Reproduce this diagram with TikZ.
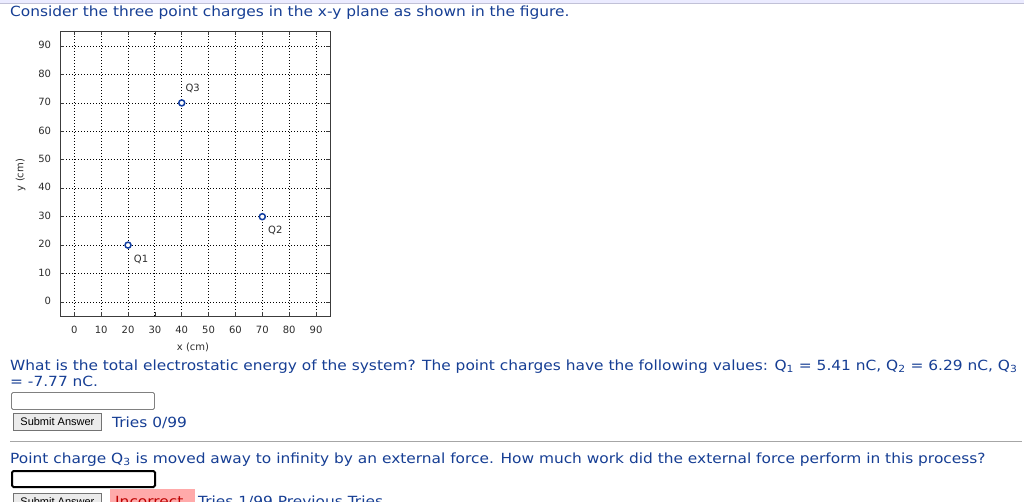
\documentclass[tikz,border=0pt]{standalone}
\usepackage{fontspec}
\setmainfont{DejaVu Sans}
\newfontfamily\webfont{DejaVu Sans}[FakeStretch=1.1]
\newfontfamily\btnfont{Liberation Sans}
\definecolor{qblue}{RGB}{22,62,148}
\definecolor{mblue}{RGB}{16,60,160}
\definecolor{axgrey}{RGB}{45,45,45}
\definecolor{boxc}{RGB}{60,60,60}
\definecolor{pinkbg}{RGB}{255,170,170}
\definecolor{redtxt}{RGB}{190,0,0}
\begin{document}
\begin{tikzpicture}[x=1pt,y=-1pt,
  txt/.style={anchor=base west, inner sep=0pt, font=\webfont\fontsize{14}{16}\selectfont, text=qblue},
  ax/.style={font=\fontsize{10}{11}\selectfont, text=axgrey, inner sep=0pt},
  axt/.style={font=\fontsize{10}{11}\selectfont, text=axgrey, inner sep=0pt},
  qlab/.style={font=\fontsize{10}{11}\selectfont, text=axgrey, inner sep=0pt},
  gridline/.style={black, line width=0.8pt, dash pattern=on 1pt off 2pt},
  tickline/.style={boxc, line width=0.7pt},
  charge/.style={circle, draw=mblue, fill=white, line width=1.5pt, minimum size=6pt, inner sep=0pt},
  inbox/.style={draw=gray, line width=0.9pt, rounded corners=1.5pt, anchor=north west, inner sep=0pt, minimum width=143pt, minimum height=17pt},
  btn/.style={draw=gray!90!black, fill=black!8, line width=0.8pt, anchor=north west, inner sep=0pt, minimum width=88pt, minimum height=17pt, font=\btnfont\fontsize{11}{12}\selectfont, text=black}]
\useasboundingbox (0,0) rectangle (1024,502);
\clip (0,0) rectangle (1024,502);
\fill[white] (0,0) rectangle (1024,502);
% top band
\fill[blue!8] (0,0) rectangle (1024,3);
\draw[blue!22!gray!40, line width=0.8pt] (0,3.2) -- (1024,3.2);

\node[txt] (t1) at (10,17) {Consider the three point charges in the x-y plane as shown in the figure.};

% plot
\begin{scope}[shift={(74.3pt,-302pt)}, x=2.686pt, y=2.844pt]
  \foreach \v in {0,10,...,90} {
    \draw[gridline] (\v,-4.92) -- (\v,95.3);
    \draw[gridline] (-5.32,\v) -- (95.2,\v);
    \draw[tickline] (\v,95.3) -- ++(0,-1.5);
    \draw[tickline] (\v,-4.92) -- ++(0,1.5);
    \draw[tickline] (-5.32,\v) -- ++(1.5,0);
    \draw[tickline] (95.2,\v) -- ++(-1.5,0);
    \node[ax, anchor=base] (xl\v) at (\v,-11.0) {\v};
    \node[ax, anchor=mid east] (yl\v) at (-8.6,\v) {\v};
  }
  \draw[boxc, line width=0.9pt] (-5.32,-4.92) rectangle (95.2,95.3);
  \node[charge] (q1) at (20,20) {};
  \node[charge] (q2) at (70,30) {};
  \node[charge] (q3) at (40,70) {};
  \node[qlab] (lq1) at ([shift={(13pt,-14pt)}]q1) {Q1};
  \node[qlab] (lq2) at ([shift={(13pt,-14pt)}]q2) {Q2};
  \node[qlab] (lq3) at ([shift={(11pt,14.5pt)}]q3) {Q3};
\end{scope}
\node[axt] (xt) at (193,347) {x (cm)};
\node[axt, rotate=90] (yt) at (20.5,175) {y (cm)};

\node[txt] (t2) at (10,370) {What is the total electrostatic energy of the system? The point charges have the following values: Q\textsubscript{1} = 5.41 nC, Q\textsubscript{2} = 6.29 nC, Q\textsubscript{3}};
\node[txt] (t3) at (10,386) {= -7.77 nC.};
\node[inbox] (in1) at (11,392) {};
\node[btn] (b1) at (13,413) {Submit Answer};
\node[txt] (tr1) at (112,427) {Tries 0/99};
\coordinate (r1) at (10,441);
\coordinate (r2) at (1022,441);
\draw[gray!70, line width=1pt] (r1) -- (r2);
\node[txt] (t4) at (10,463) {Point charge Q\textsubscript{3} is moved away to infinity by an external force. How much work did the external force perform in this process?};
\node[inbox, draw=black, line width=2pt, minimum height=16pt] (in2) at (11,470) {};
\node[btn] (b2) at (13,493) {Submit Answer};
\node[fill=pinkbg, anchor=north west, minimum width=85pt, minimum height=20pt, inner sep=0pt] (inc) at (110,489) {};
\node[txt, text=redtxt] (inct) at (115,506) {Incorrect};
\node[txt] (tr2) at (198,506) {Tries 1/99 Previous Tries};
\end{tikzpicture}
\end{document}
